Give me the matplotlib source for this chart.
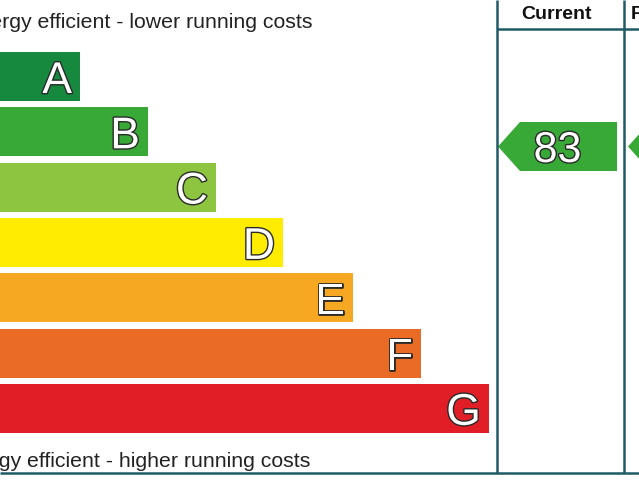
import matplotlib
matplotlib.use("Agg")
import matplotlib.pyplot as plt
from matplotlib.patches import Rectangle, Polygon
import matplotlib.patheffects as pe

# ---- data ----
bands = ["A", "B", "C", "D", "E", "F", "G"]
band_lengths = [80, 148, 216, 283, 353, 421, 489]
band_colors = ["#17893f", "#38a836", "#8dc540", "#ffec00", "#f6a823", "#ea6b25", "#e11e26"]
current_rating = 83
potential_rating = 83
current_color = "#38a836"
potential_color = "#38a836"
header_current = "Current"
header_potential = "Potential"
top_text = "Very energy efficient - lower running costs"
bottom_text = "Not energy efficient - higher running costs"

W, H = 639, 480
fig = plt.figure(figsize=(W / 100, H / 100), dpi=100)
ax = fig.add_axes([0, 0, 1, 1])
ax.set_xlim(0, W)
ax.set_ylim(H, 0)
ax.axis("off")

font = "Liberation Sans"
outline = [pe.Stroke(linewidth=2.0, foreground="#2a2a2a"), pe.Normal()]

bar_top0 = 52
bar_step = 55.3
bar_h = 49
for i, (b, L, c) in enumerate(zip(bands, band_lengths, band_colors)):
    top = bar_top0 + i * bar_step
    ax.add_patch(Rectangle((0, top), L, bar_h, facecolor=c, edgecolor="none"))
    ax.text(L - 8, top + bar_h / 2 + 16.5, b, ha="right", va="baseline",
            fontsize=32, color="white", family=font, path_effects=outline)

ax.text(312, 28, top_text, ha="right", va="baseline", fontsize=15.3,
        color="#222222", family=font)
ax.text(310, 467, bottom_text, ha="right", va="baseline", fontsize=15.3,
        color="#222222", family=font)

# rating arrows
def arrow(x_tip, x_right, color, value):
    cy, h2, tip = 146.5, 24.5, 22
    pts = [(x_tip, cy), (x_tip + tip, cy - h2), (x_right, cy - h2),
           (x_right, cy + h2), (x_tip + tip, cy + h2)]
    ax.add_patch(Polygon(pts, closed=True, facecolor=color, edgecolor="none"))
    ax.text((x_tip + tip + x_right) / 2 - 11, cy + 15.5, str(value), ha="center",
            va="baseline", fontsize=31, color="white", family=font,
            path_effects=outline)

arrow(498, 617, current_color, current_rating)
arrow(628, 747, potential_color, potential_rating)

# table lines
lc = "#1f5b66"
lw = 1.8
ax.plot([497, 497], [0, 473], color=lc, lw=lw, solid_capstyle="butt")
ax.plot([624, 624], [0, 473], color=lc, lw=lw, solid_capstyle="butt")
ax.plot([497, W], [29, 29], color=lc, lw=lw, solid_capstyle="butt")
ax.plot([0, W], [473, 473], color=lc, lw=lw, solid_capstyle="butt")

ax.text(556, 19, header_current, ha="center", va="baseline", fontsize=14,
        fontweight="bold", color="#111111", family=font)
ax.text(631, 19, header_potential, ha="left", va="baseline", fontsize=14,
        fontweight="bold", color="#111111", family=font)

fig.savefig("out.png", dpi=100)
